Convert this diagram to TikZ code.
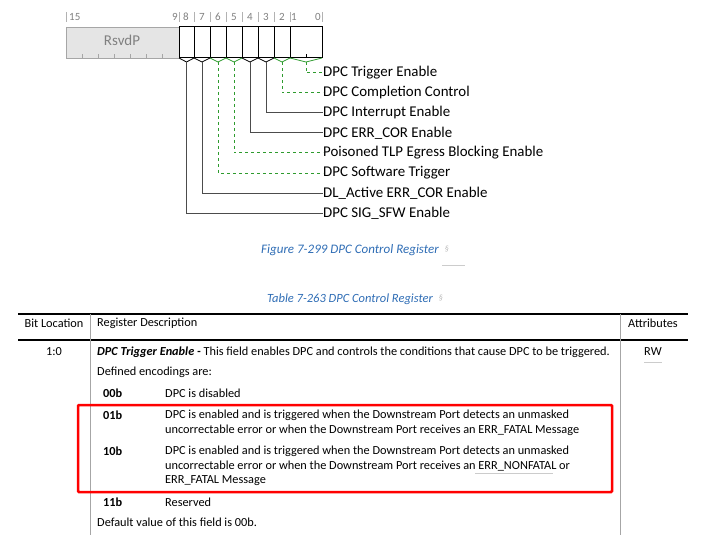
\documentclass[tikz,border=0pt]{standalone}
\usepackage{fontspec}
\setmainfont{Carlito}
\definecolor{capblue}{HTML}{2F6DB5}
\definecolor{grn}{HTML}{2E9B2E}
\begin{document}
\begin{tikzpicture}[x=1pt,y=-1pt,
  lbl/.style={anchor=west,font=\fontsize{14.9}{16}\selectfont,inner sep=0pt},
  bitn/.style={font=\fontsize{11}{12}\selectfont,text=gray,inner sep=0pt},
  tf/.style={font=\fontsize{12.3}{14}\selectfont},
  txt/.style={anchor=west,tf,inner sep=0pt},
  bl/.style={black!70,line width=1pt},
  gl/.style={grn,dashed,line width=1pt}]
\useasboundingbox (0,0) rectangle (716,535);
% register
\fill[gray!20] (66,27) rectangle (179,58);
\draw[gray!70] (66,27) -- (179,27) (66,58) -- (179,58) (66,27)--(66,58);
\foreach \x in {82,98,114,130,146,162} \draw[gray!70] (\x,58)--(\x,54);
\node[font=\fontsize{15}{16}\selectfont,text=gray] (rsv) at (122,40) {RsvdP};
\draw[black,line width=1pt] (179,27) rectangle (322,58);
\foreach \x in {194,210,226,242,258,274,290} \draw[black,line width=1pt] (\x,27)--(\x,58);
\draw (306,58)--(306,54);
\foreach \x in {66,179,194,210,226,242,258,274,290,322} \draw[gray!60] (\x,12)--(\x,22);
\node[bitn,anchor=west] (b15) at (69,17) {15};
\node[bitn] (b9) at (175,17) {9};
\node[bitn] (b8) at (186,17) {8};
\node[bitn] (b7) at (202,17) {7};
\node[bitn] (b6) at (218,17) {6};
\node[bitn] (b5) at (234,17) {5};
\node[bitn] (b4) at (250,17) {4};
\node[bitn] (b3) at (266,17) {3};
\node[bitn] (b2) at (282,17) {2};
\node[bitn] (b1) at (294,17) {1};
\node[bitn] (b0) at (318,17) {0};
% chevrons
\foreach \a/\b/\c in {179/194/black,194/210/black,210/226/grn,226/242/grn,242/258/black,258/274/black,274/290/grn,290/322/grn}
  {\draw[\c,line width=0.8pt] (\a,58)--({(\a+\b)/2},62)--(\b,58);}
% labels
\node[lbl] (l0) at (323,73) {DPC Trigger Enable};
\node[lbl] (l2) at (323,93) {DPC Completion Control};
\node[lbl] (l3) at (323,113) {DPC Interrupt Enable};
\node[lbl] (l4) at (323,133) {DPC ERR\_COR Enable};
\node[lbl] (l5) at (323,153) {Poisoned TLP Egress Blocking Enable};
\node[lbl] (l6) at (323,173) {DPC Software Trigger};
\node[lbl] (l7) at (323,193) {DL\_Active ERR\_COR Enable};
\node[lbl] (l8) at (323,213) {DPC SIG\_SFW Enable};
\draw[gl] (306,62) |- (l0.west);
\draw[gl] (282,62) |- (l2.west);
\draw[bl] (266,62) |- (l3.west);
\draw[bl] (250,62) |- (l4.west);
\draw[gl] (234,62) |- (l5.west);
\draw[gl] (218,62) |- (l6.west);
\draw[bl] (202,62) |- (l7.west);
\draw[bl] (186,62) |- (l8.west);
% captions
\node[font=\fontsize{13}{15}\selectfont\itshape,text=capblue] (fc) at (355,250) {Figure 7-299 DPC Control Register\hspace{6pt}\raisebox{2pt}{\fontsize{8}{9}\selectfont\textcolor{gray!60}{\S}}};
\draw[gray!40,line width=1pt] (442,265)--(465,265);
\node[font=\fontsize{12.5}{15}\selectfont\itshape,text=capblue] (tc) at (355,299) {Table 7-263 DPC Control Register\hspace{6pt}\raisebox{2pt}{\fontsize{8}{9}\selectfont\textcolor{gray!60}{\S}}};
\draw[gray!40,line width=1pt] (434,313)--(458,313);
% table
\draw[line width=1.5pt] (18,314)--(688,314);
\draw[line width=1.5pt] (18,340)--(688,340);
\draw[gray!70] (90,314)--(90,535) (620,314)--(620,535);
\node[tf] (h1) at (54,323) {Bit Location};
\node[txt] (h2) at (97,323) {Register Description};
\node[tf] (h3) at (653,323) {Attributes};
\node[tf] (r1) at (54,352) {1:0};
\node[txt] (d1) at (97,352) {\textbf{\textit{DPC Trigger Enable -}} This field enables DPC and controls the conditions that cause DPC to be triggered.};
\node[tf] (rw) at (653,352) {RW};
\draw[gray!40,line width=1pt] (644,362)--(662,362);
\node[txt] (de) at (97,372) {Defined encodings are:};
\node[txt,font=\fontsize{12.3}{14}\selectfont\bfseries] (e0) at (103,393) {00b};
\node[txt] (t0) at (165,393) {DPC is disabled};
\node[txt,font=\fontsize{12.3}{14}\selectfont\bfseries] (e1) at (103,415) {01b};
\node[txt] (t1a) at (165,415) {DPC is enabled and is triggered when the Downstream Port detects an unmasked};
\node[txt] (t1b) at (165,430) {uncorrectable error or when the Downstream Port receives an ERR\_FATAL Message};
\node[txt,font=\fontsize{12.3}{14}\selectfont\bfseries] (e2) at (103,451) {10b};
\node[txt] (t2a) at (165,451) {DPC is enabled and is triggered when the Downstream Port detects an unmasked};
\node[txt] (t2b) at (165,466) {uncorrectable error or when the Downstream Port receives an ERR\_NONFATAL or};
\draw[gray!40,line width=1pt] (475,473)--(553,473);
\node[txt] (t2c) at (165,481) {ERR\_FATAL Message};
\node[txt,font=\fontsize{12.3}{14}\selectfont\bfseries] (e3) at (103,502) {11b};
\node[txt] (t3) at (165,502) {Reserved};
\node[txt] (dv) at (97,522) {Default value of this field is 00b.};
\draw[red,line width=2.5pt,rounded corners=1pt] (78,405) rectangle (612,492);
\end{tikzpicture}
\end{document}
